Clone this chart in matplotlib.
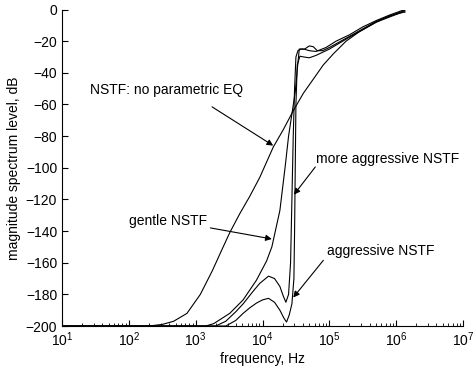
import matplotlib
matplotlib.use("Agg")
import matplotlib.pyplot as plt
from matplotlib.patches import FancyArrowPatch
from matplotlib.ticker import NullFormatter
import numpy as np

plt.rcParams['font.family'] = ['Liberation Sans', 'DejaVu Sans']
plt.rcParams['font.size'] = 10

# curves: log10(frequency) and level in dB
a_logf = [1.0, 2.30, 2.50, 2.67, 2.87, 3.07, 3.25, 3.39, 3.51, 3.66, 3.81, 3.96,
          4.16, 4.31, 4.46, 4.61, 4.76, 4.91, 5.06, 5.25, 5.45, 5.70, 5.90, 6.13]
a_db = [-200, -200, -199, -197, -192, -180, -165, -152, -141, -129, -118, -106,
        -87, -76, -64, -53, -44, -35, -28, -20, -14, -8, -4, -1.5]

b_logf = [1.0, 3.15, 3.27, 3.51, 3.71, 3.91, 4.06, 4.14, 4.26, 4.34, 4.39, 4.44,
          4.49, 4.52, 4.55, 4.62, 4.70, 4.80, 4.95, 5.10, 5.30, 5.50, 5.70, 5.90, 6.13]
b_db = [-200, -200, -198.5, -192, -183.5, -171, -159, -150, -127, -99, -80, -66,
        -52, -38, -25, -25, -26, -26.5, -24, -20, -16, -11, -7, -3.5, 0]

c_logf = [1.0, 3.30, 3.45, 3.60, 3.71, 3.86, 3.96, 4.09, 4.18, 4.26, 4.31, 4.35,
          4.39, 4.42, 4.44, 4.46, 4.48, 4.50, 4.53, 4.57, 4.63, 4.70, 4.76, 4.82,
          4.90, 5.0, 5.3, 5.7, 6.1, 6.13]
c_db = [-200, -200, -197, -191, -186, -178, -173, -168.5, -170, -175, -181, -185,
        -180, -160, -120, -80, -50, -30, -26, -25, -25, -23, -23.5, -26,
        -26, -24, -17, -7.5, -1, -0.5]

d_logf = [1.0, 3.45, 3.60, 3.71, 3.81, 3.91, 4.00, 4.09, 4.18, 4.26, 4.32, 4.36,
          4.40, 4.44, 4.47, 4.48, 4.49, 4.50, 4.52, 4.56, 4.62, 4.70, 4.80, 4.90,
          5.0, 5.3, 5.7, 6.1, 6.13]
d_db = [-200, -200, -196.5, -192, -188.5, -185.5, -183.5, -182.5, -185, -190, -195, -197.5,
        -193, -186, -170, -140, -100, -60, -35, -29.5, -30, -30.5, -29, -27,
        -25, -17.5, -8, -1.5, -1.5]

fig = plt.figure(figsize=(4.74, 3.68), dpi=100)
ax = fig.add_axes([0.1308, 0.1141, 0.846, 0.860])

for lf, db in [(a_logf, a_db), (b_logf, b_db), (c_logf, c_db), (d_logf, d_db)]:
    ax.plot(10 ** np.array(lf), db, color='k', lw=0.8)

ax.set_xscale('log')
ax.set_xlim(10, 1e7)
ax.set_ylim(-200, 0)
ax.set_yticks(np.arange(-200, 1, 20))
ax.xaxis.set_minor_formatter(NullFormatter())
ax.xaxis.get_offset_text().set_visible(False)
ax.yaxis.get_offset_text().set_visible(False)
ax.spines['top'].set_visible(False)
ax.spines['right'].set_visible(False)
ax.tick_params(which='both', direction='in', top=False, right=False)
ax.tick_params(which='major', length=4, width=0.8)
ax.tick_params(which='minor', length=2, width=0.6)
ax.set_xlabel('frequency, Hz', labelpad=2)
ax.set_ylabel('magnitude spectrum level, dB', labelpad=3)


def arrow(tail, head):
    ax.add_patch(FancyArrowPatch((10 ** tail[0], tail[1]), (10 ** head[0], head[1]),
                                 arrowstyle='-|>', color='k', lw=0.8,
                                 mutation_scale=9, shrinkA=0, shrinkB=0))


arrow((3.245, -61.5), (4.16, -86))
ax.text(10 ** 1.42, -51, 'NSTF: no parametric EQ', va='center', ha='left')
arrow((4.79, -99.5), (4.47, -117))
ax.text(10 ** 4.80, -94.5, 'more aggressive NSTF', va='center', ha='left')
arrow((3.22, -138), (4.14, -145))
ax.text(10 ** 2.0, -133.5, 'gentle NSTF', va='center', ha='left')
arrow((4.91, -158.5), (4.46, -182))
ax.text(10 ** 4.97, -152.5, 'aggressive NSTF', va='center', ha='left')

fig.savefig('out.png', dpi=100)
